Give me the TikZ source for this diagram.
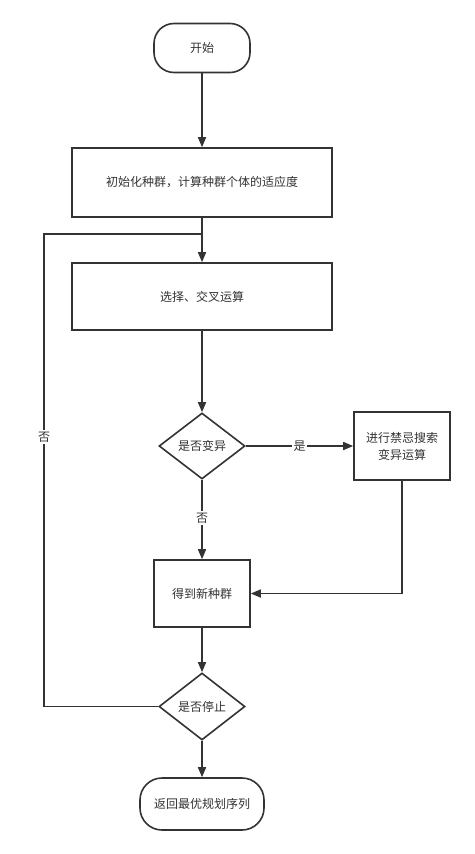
\documentclass[tikz,border=0pt]{standalone}
\usepackage{fontspec}
\setmainfont{Noto Sans CJK SC}
\usetikzlibrary{shapes.geometric,arrows.meta}
\definecolor{ln}{HTML}{333333}
\definecolor{tx}{HTML}{333333}
\begin{document}
\begin{tikzpicture}[x=1pt,y=-1pt,
  base/.style={draw=ln, line width=1.6pt, text=tx, font=\fontsize{12pt}{17pt}\selectfont, align=center, inner sep=0pt},
  term/.style={base, rounded corners=20pt},
  procbox/.style={base, rectangle},
  decide/.style={base, diamond, minimum width=86pt, minimum height=66pt},
  conn/.style={draw=ln, line width=1.6pt},
  arr/.style={conn, -{Triangle[length=10pt,width=8pt]}},
  lbl/.style={fill=white, text=tx, font=\fontsize{12pt}{14pt}\selectfont, inner sep=1.5pt}
]
\useasboundingbox (0,0) rectangle (474,854);
\fill[white] (0,0) rectangle (474,854);

\node[term, minimum width=96pt, minimum height=49pt] (start) at (202,48) {开始};
\node[procbox, minimum width=260pt, minimum height=69pt] (init) at (202,182.5) {初始化种群，计算种群个体的适应度};
\node[procbox, minimum width=260pt, minimum height=67pt] (sel) at (202,296.5) {选择、交叉运算};
\node[decide] (mut) at (202,446) {是否变异};
\node[procbox, minimum width=96pt, minimum height=68pt] (tabu) at (402,446) {进行禁忌搜索\\变异运算};
\node[procbox, minimum width=96pt, minimum height=67pt] (newpop) at (202,593.5) {得到新种群};
\node[decide, minimum height=67pt] (stop) at (202,706.5) {是否停止};
\node[term, minimum width=124pt, minimum height=52pt, rounded corners=22pt] (fin) at (202,804) {返回最优规划序列};

\coordinate (loopL) at (44,706.5);
\coordinate (loopT) at (44,234);
\coordinate (join) at (202,234);

\draw[arr] (start) -- (init);
\draw[arr] (init) -- (sel);
\draw[conn] (stop.west) -- (loopL) -- (loopT) -- (join);
\node[lbl] (nolbl2) at (44,437) {否};
\draw[arr] (sel) -- (mut);
\draw[arr] (mut) -- node[lbl] (yes) {是} (tabu);
\draw[arr] (mut) -- node[lbl, pos=0.48] (no1) {否} (newpop);
\draw[arr] (tabu.south) |- (newpop.east);
\draw[arr] (newpop) -- (stop);
\draw[arr] (stop) -- (fin);
\end{tikzpicture}
\end{document}
